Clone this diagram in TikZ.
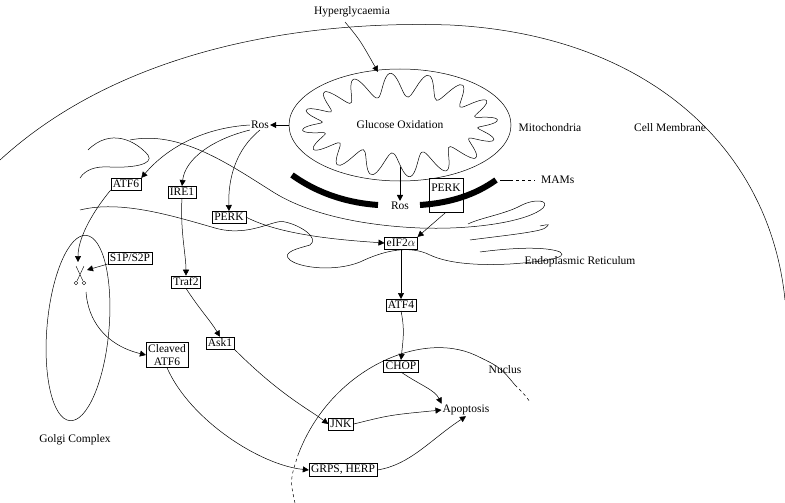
\documentclass[tikz,border=0pt]{standalone}
\usepackage{fontspec}
\setmainfont{Liberation Serif}
\usetikzlibrary{arrows.meta,shapes.geometric}
\begin{document}
\begin{tikzpicture}[x=1pt,y=-1pt,font=\fontsize{11.5}{13}\selectfont,
  bx/.style={draw,inner sep=2pt,line width=0.4pt},
  lb/.style={inner sep=1pt},
  ar/.style={-{Triangle[length=6pt,width=6pt]},line width=0.5pt},
  ln/.style={line width=0.5pt}]
\useasboundingbox (0,0) rectangle (785,503);
% cell membrane
\draw[ln] (0,160) .. controls (120,50) and (300,20) .. (450,25) .. controls (650,35) and (770,150) .. (785,300);
\node[lb] (hyp) at (352,12) {Hyperglycaemia};
\node[lb] (cm) at (670,128) {Cell Membrane};
% mitochondrion
\node[draw,ellipse,minimum width=222,minimum height=112,line width=0.5pt] (mito) at (400,125) {};
\draw[ln] plot[smooth cycle,domain=0:358,samples=180,variable=\t] ({400+(88-10*sin(16*\t))*cos(\t)},{125+(40-12*sin(16*\t))*sin(\t)});
\node[lb,fill=white] (glu) at (400,125) {Glucose Oxidation};
\node[lb] (mitl) at (550,128) {Mitochondria};
\coordinate (hs) at (345,22);
\draw[ar] (hs) .. controls (360,40) .. (378,72);
% MAMs
\draw[line width=6pt] (292,175) .. controls (320,195) and (350,203) .. (378,205);
\draw[line width=6pt] (420,205) .. controls (450,203) and (475,195) .. (496,180);
\coordinate (md) at (500,180);
\coordinate (me) at (535,180);
\draw[ln] (md) -- (510,180);
\draw[ln,dashed] (510,180) -- (me);
\node[lb,anchor=west] (mams) at (540,180) {MAMs};
\node[lb] (ros2) at (400,206) {Ros};
\draw[ar] (400,167) -- (ros2.north);
\node[draw,minimum width=34,minimum height=34,line width=0.4pt,text depth=14pt,inner sep=2pt] (perk2) at (446,195) {PERK};
% ER
\draw[ln] (88,150) .. controls (110,128) and (135,140) .. (148,155) .. controls (155,165) and (130,168) .. (110,167)
  .. controls (95,166) and (85,170) .. (80,178);
\draw[ln] (130,140) .. controls (180,130) and (230,165) .. (270,190) .. controls (300,210) and (350,225) .. (420,228)
  .. controls (480,230) and (530,220) .. (543,208) .. controls (550,200) and (535,198) .. (520,206)
  .. controls (505,214) and (480,218) .. (468,224);
\draw[ln] (470,240) .. controls (500,236) and (540,232) .. (545,228) .. controls (550,224) .. (540,226);
\draw[ln] (480,252) .. controls (510,248) and (545,246) .. (560,252) .. controls (570,258) and (540,262) .. (510,264)
  .. controls (470,266) and (445,262) .. (430,255) .. controls (410,245) and (385,250) .. (360,262)
  .. controls (335,272) and (300,268) .. (290,260) .. controls (280,252) and (300,248) .. (310,245)
  .. controls (320,238) and (300,225) .. (285,222);
\draw[ln] (80,210) .. controls (120,200) and (170,215) .. (215,228) .. controls (250,238) and (275,218) .. (285,222);
\node[lb] (erl) at (580,262) {Endoplasmic Reticulum};
% left path
\node[lb] (ros1) at (260,125) {Ros};
\draw[ar] (mito.west) -- (ros1.east);
\node[bx] (atf6) at (126,184) {ATF6};
\node[bx] (ire1) at (182,192) {IRE1};
\node[bx] (perk1) at (229,217) {PERK};
\node[bx,fill=white] (eif) at (401,243) {eIF2$\alpha$};
\draw[ar] (ros1.west) .. controls (200,128) and (165,150) .. (atf6.north east);
\draw[ar] (ros1.south west) .. controls (210,140) and (185,160) .. (ire1.north);
\draw[ar] (ros1.south) .. controls (235,150) and (228,180) .. (perk1.north);
\draw[ar] (perk1.east) .. controls (280,235) and (340,240) .. (eif.west);
\draw[ar] (perk2.south) -- (eif.north east);
% Golgi
\draw[ln,rotate around={-5:(78,328)}] (78,328) ellipse [x radius=31,y radius=93];
\node[lb] (gol) at (75,440) {Golgi Complex};
\node[bx] (s1p) at (130,258) {S1P/S2P};
% scissors
\coordinate (sci) at (80,272);
\draw[line width=0.4pt] (76,266) -- (83,281) (84,266) -- (77,281);
\draw[line width=0.4pt] (76,283) circle (1.8) (84,283) circle (1.8);
\draw[ar] (atf6.south west) .. controls (90,215) and (78,240) .. (78,262);
\draw[ar] (s1p.south west) -- (87,270);
\node[bx,align=center,fill=white] (catf6) at (167,355) {Cleaved\\ATF6};
\draw[ar] (86,292) .. controls (88,320) and (105,345) .. (catf6.west);
\node[bx] (traf2) at (186,282) {Traf2};
\draw[ar] (ire1.south) .. controls (180,230) and (186,255) .. (traf2.north);
\node[bx] (ask1) at (220,343) {Ask1};
\draw[ar] (traf2.south) .. controls (200,310) and (210,320) .. (ask1.north);
% nucleus
\draw[ln,dashed] (295,503) .. controls (290,480) .. (298,455);
\draw[ln] (298,455) .. controls (330,370) and (420,330) .. (475,355) .. controls (500,367) .. (515,385);
\draw[ln,dashed] (515,385) .. controls (525,395) .. (530,402);
\node[lb] (nuc) at (505,370) {Nuclus};
\node[bx] (atf4) at (401,305) {ATF4};
\draw[ar] (eif.south) -- (atf4.north);
\node[bx,fill=white] (chop) at (401,366) {CHOP};
\draw[ar] (atf4.south) .. controls (405,330) and (403,340) .. (chop.north);
\node[lb] (apo) at (466,410) {Apoptosis};
\node[bx] (jnk) at (341,424) {JNK};
\node[bx] (grps) at (343,470) {GRPS, HERP};
\draw[ar] (ask1.south east) .. controls (280,395) and (310,410) .. (jnk.west);
\draw[ar] (catf6.south) .. controls (190,420) and (260,465) .. (grps.west);
\draw[ar] (chop.south) .. controls (420,385) and (435,390) .. (apo.north west);
\draw[ar] (jnk.east) .. controls (390,415) .. (apo.west);
\draw[ar] (grps.east) .. controls (410,465) and (430,440) .. (apo.south);
\end{tikzpicture}
\end{document}
